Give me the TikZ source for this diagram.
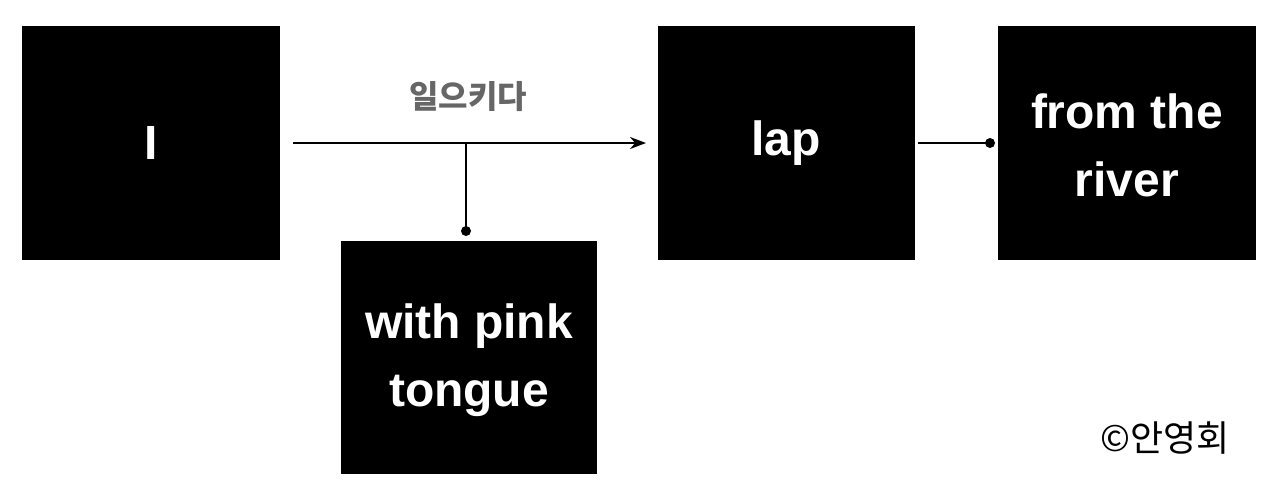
\documentclass[tikz,border=0pt]{standalone}
\usepackage{fontspec}
\usetikzlibrary{arrows.meta}
\setmainfont{Liberation Sans}
\newfontfamily\kr{Noto Sans CJK KR}
\begin{document}
\begin{tikzpicture}[x=0.5pt,y=-0.5pt,
 blk/.style={fill=black,text=white,font=\bfseries\fontsize{24}{34}\selectfont,align=center,inner sep=0},
 ln/.style={line width=1pt}]
\useasboundingbox (0,0) rectangle (1280,494);
\fill[black] (22,26) rectangle (280,260);
\node[blk] (i) at (151,143) {I};
\fill[black] (658,26) rectangle (915,260);
\node[blk] (lap) at (786,143) {lap};
\fill[black] (998,26) rectangle (1256,260);
\node[blk] (river) at (1127,145) {from the\\river};
\fill[black] (341,241) rectangle (597,474);
\node[blk] (pink) at (469,360) {with pink\\tongue};
\coordinate (a1) at (293,143);
\coordinate (a2) at (646,143);
\coordinate (j) at (466,143);
\coordinate (d1) at (466,231);
\coordinate (b1) at (918,143);
\coordinate (d2) at (990,143);
\draw[ln,-{Stealth[length=8pt,width=6pt]}] (a1) -- (a2);
\draw[ln] (j) -- (d1);
\fill (d1) circle (5);
\draw[ln] (b1) -- (d2);
\fill (d2) circle (5);
\node[font=\kr\bfseries\fontsize{16}{18}\selectfont,text=black!60] (lbl) at (468,97) {일으키다};
\node[font=\kr\fontsize{18}{20}\selectfont] (c) at (1165,438) {©안영회};
\end{tikzpicture}
\end{document}
